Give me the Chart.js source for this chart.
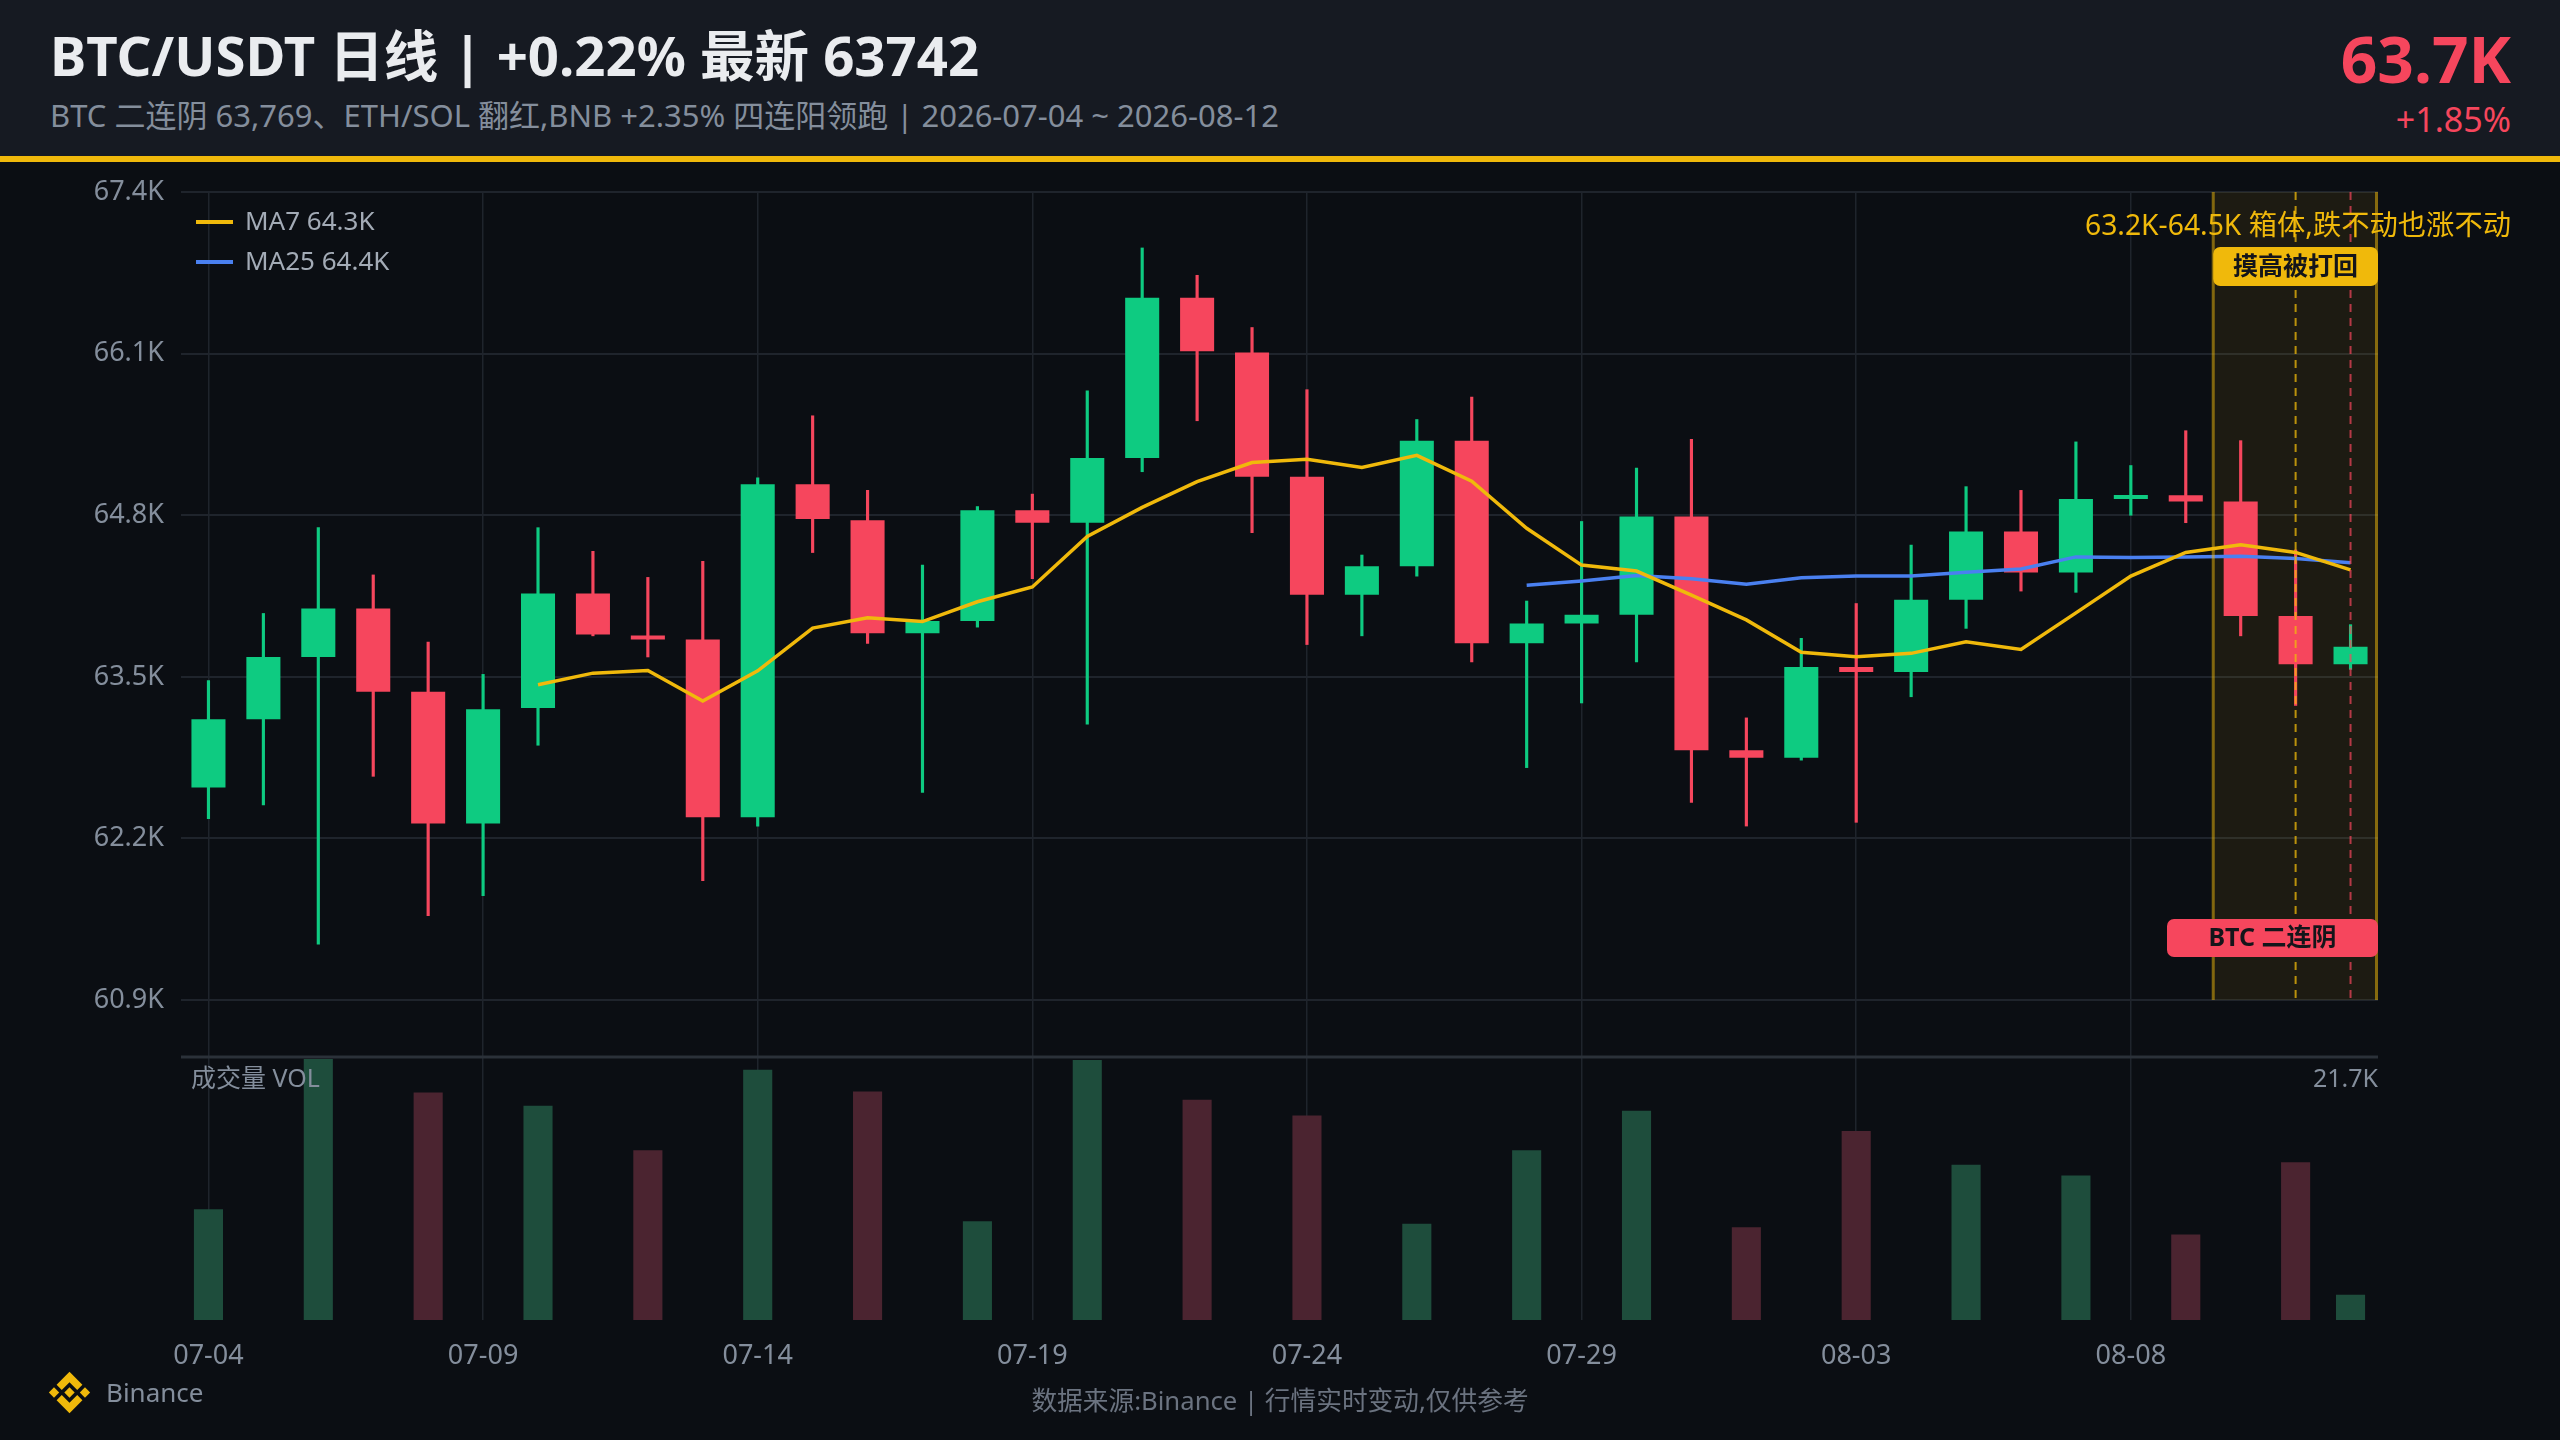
<!DOCTYPE html>
<html lang="zh-CN">
<head>
<meta charset="utf-8">
<title>BTC/USDT 日线</title>
<script src="https://cdn.jsdelivr.net/npm/chart.js@4.4.1/dist/chart.umd.min.js"></script>
<style>
  html, body { margin: 0; padding: 0; background: #0b0e13; }
  body { width: 2560px; height: 1440px; position: relative; overflow: hidden;
         font-family: "Noto Sans", "Noto Sans CJK SC", sans-serif; }
  #kline { position: absolute; left: 0; top: 0; }
  #header { position: absolute; left: 0; top: 0; width: 2560px; height: 156px;
            background: #161a22; border-bottom: 6px solid #f0b90b; }
  .t { position: absolute; white-space: nowrap; line-height: 1; }
  #title { left: 50px; top: 28px; font-size: 54.5px; font-weight: 700; color: #eaecef; }
  #sub { left: 50px; top: 100px; font-size: 31px; color: #848e9c; }
  #last { right: 49px; top: 27px; font-size: 64px; font-weight: 700; color: #f6465d; }
  #chg { right: 49px; top: 102px; font-size: 34px; color: #f6465d; }
  #logo { position: absolute; left: 48px; top: 1371px; width: 43px; height: 43px; }
  #brand { left: 106px; top: 1379px; font-size: 26px; color: #848e9c; }
  #src { left: 0; width: 2560px; text-align: center; top: 1388px; font-size: 25.7px; color: #6b7380; }
</style>
</head>
<body>
<canvas id="kline" width="2560" height="1440"></canvas>

<div id="header">
  <div class="t" id="title">BTC/USDT 日线 | +0.22% 最新 63742</div>
  <div class="t" id="sub">BTC 二连阴 63,769、ETH/SOL 翻红,BNB +2.35% 四连阳领跑 | 2026-07-04 ~ 2026-08-12</div>
  <div class="t" id="last">63.7K</div>
  <div class="t" id="chg">+1.85%</div>
</div>

<svg id="logo" viewBox="0 0 100 100">
  <g fill="#f0b90b">
    <polygon points="50,38 62,50 50,62 38,50"/>
    <polygon points="2,50 14,38 26,50 14,62"/>
    <polygon points="74,50 86,38 98,50 86,62"/>
    <polygon points="50,2 80,32 68,44 50,26 32,44 20,32"/>
    <polygon points="50,98 80,68 68,56 50,74 32,56 20,68"/>
  </g>
</svg>
<div class="t" id="brand">Binance</div>
<div class="t" id="src">数据来源:Binance | 行情实时变动,仅供参考</div>

<script>
// ===== 数据 =====
const fechas = ['07-04','07-05','07-06','07-07','07-08','07-09','07-10','07-11','07-12','07-13',
  '07-14','07-15','07-16','07-17','07-18','07-19','07-20','07-21','07-22','07-23',
  '07-24','07-25','07-26','07-27','07-28','07-29','07-30','07-31','08-01','08-02',
  '08-03','08-04','08-05','08-06','08-07','08-08','08-09','08-10','08-11','08-12'];

const aperturas = [62610,63160,63660,64050,63380,62320,63250,64170,63830,63800,
  62370,65050,64760,63850,63950,64840,64740,65260,66550,66110,
  65110,64160,64390,65400,63770,63930,64000,64790,62910,62850,
  63580,63540,64120,64670,64340,64930,64960,64910,63990,63602];
const maximos = [63470,64010,64700,64320,63780,63520,64700,64510,64300,64430,
  65100,65600,65000,64400,64870,64970,65800,66950,66730,66310,
  65810,64480,65570,65750,64110,64750,65180,65410,63170,63810,
  64090,64560,65030,65000,65390,65200,65480,65400,64520,63920];
const minimos = [62360,62470,61350,62700,61580,61740,62950,63830,63660,61860,
  62300,64500,63770,62570,63900,64290,63120,65150,65560,64660,
  63760,63830,64310,63620,62770,63290,63620,62490,62300,62830,
  62330,63340,63890,64190,64180,64800,64740,63830,63270,63560];
const cierres = [63160,63660,64050,63380,62320,63240,64170,63840,63800,62370,
  65050,64770,63850,63950,64840,64740,65260,66550,66120,65110,
  64160,64390,65400,63770,63930,64000,64790,62910,62850,63580,
  63540,64120,64670,64340,64930,64960,64910,63990,63602,63742];

const ma7 = [null,null,null,null,null,null,63437,63530,63552,63305,
  63548,63892,63976,63945,64104,64223,64629,64863,65070,65224,
  65251,65185,65282,65074,64695,64399,64351,64157,63958,63698,
  63662,63689,63782,63720,64015,64311,64501,64563,64501,64360];
const ma25 = [null,null,null,null,null,null,null,null,null,null,
  null,null,null,null,null,null,null,null,null,null,
  null,null,null,null,64236,64271,64315,64289,64245,64298,
  64311,64311,64342,64368,64465,64461,64465,64470,64452,64417];

// 成交量 (K)
const volumen = [9.2,null,21.7,null,18.9,null,17.8,null,14.1,null,
  20.8,null,19.0,null,8.2,null,21.6,null,18.3,null,
  17.0,null,8.0,null,14.1,null,17.4,null,7.7,null,
  15.7,null,12.9,null,12.0,null,7.1,null,13.1,2.1];

const preciosEje = [60900,62200,63500,64800,66100,67400];
const leyenda = ['MA7 64.3K','MA25 64.4K'];

// ===== estilos =====
const VERDE = '#0ecb81', ROJO = '#f6465d', AMARILLO = '#f0b90b', AZUL = '#4a80f0';
const GRIS = '#848e9c', GRID = '#1f242c';
const FUENTE = '"Noto Sans", "Noto Sans CJK SC", sans-serif';

const sube = cierres.map((c, i) => c >= aperturas[i]);
const colorVela = sube.map(s => s ? VERDE : ROJO);
const colorVol = sube.map(s => s ? '#1e4d3c' : '#4b2430');
const volMax = Math.max(...volumen.filter(v => v != null));

// zona marcada (últimas velas)
const zona = { desde: 36, linea1: 38, linea2: 39 };

function pastilla(ctx, x, y, w, h, r, fondo, texto, colorTexto) {
  ctx.fillStyle = fondo;
  ctx.beginPath();
  ctx.roundRect(x, y, w, h, r);
  ctx.fill();
  ctx.fillStyle = colorTexto;
  ctx.font = `700 25px ${FUENTE}`;
  ctx.textAlign = 'center';
  ctx.textBaseline = 'middle';
  ctx.fillText(texto, x + w / 2, y + h / 2 + 1);
}

const pluginZona = {
  id: 'zona',
  beforeDatasetsDraw(chart) {
    const { ctx, chartArea, scales: { x, y, yv } } = chart;
    const izq = (x.getPixelForValue(zona.desde) + x.getPixelForValue(zona.desde + 1)) / 2;
    const arriba = y.getPixelForValue(preciosEje[preciosEje.length - 1]);
    const abajo = y.getPixelForValue(preciosEje[0]);
    ctx.save();
    ctx.fillStyle = 'rgba(240,185,11,0.08)';
    ctx.fillRect(izq, arriba, chartArea.right - izq, abajo - arriba);
    // separador volumen
    const ySep = yv.getPixelForValue(volMax) - 2;
    ctx.strokeStyle = '#2b3139';
    ctx.lineWidth = 3;
    ctx.beginPath();
    ctx.moveTo(chartArea.left, ySep);
    ctx.lineTo(chartArea.right, ySep);
    ctx.stroke();
    ctx.restore();
  },
  afterDatasetsDraw(chart) {
    const { ctx, chartArea, scales: { x, y, yv } } = chart;
    const izq = (x.getPixelForValue(zona.desde) + x.getPixelForValue(zona.desde + 1)) / 2;
    const der = chartArea.right;
    const arriba = y.getPixelForValue(preciosEje[preciosEje.length - 1]);
    const abajo = y.getPixelForValue(preciosEje[0]);
    ctx.save();
    // bordes de la zona
    ctx.strokeStyle = 'rgba(240,185,11,0.5)';
    ctx.lineWidth = 3;
    ctx.beginPath();
    ctx.moveTo(izq, arriba); ctx.lineTo(izq, abajo);
    ctx.moveTo(der - 1.5, arriba); ctx.lineTo(der - 1.5, abajo);
    ctx.stroke();
    // líneas discontinuas
    ctx.setLineDash([8, 6]);
    ctx.lineWidth = 2;
    ctx.strokeStyle = 'rgba(240,185,11,0.75)';
    let px = x.getPixelForValue(zona.linea1);
    ctx.beginPath(); ctx.moveTo(px, arriba); ctx.lineTo(px, abajo); ctx.stroke();
    ctx.strokeStyle = 'rgba(246,70,93,0.7)';
    px = x.getPixelForValue(zona.linea2);
    ctx.beginPath(); ctx.moveTo(px, arriba); ctx.lineTo(px, abajo); ctx.stroke();
    ctx.setLineDash([]);

    // texto de la caja
    ctx.fillStyle = AMARILLO;
    ctx.font = `28.3px ${FUENTE}`;
    ctx.textAlign = 'right';
    ctx.textBaseline = 'middle';
    ctx.fillText('63.2K-64.5K 箱体,跌不动也涨不动', 2511, 227);

    pastilla(ctx, izq, 247, der - izq, 39, 7, AMARILLO, '摸高被打回', '#14151a');
    pastilla(ctx, der - 211, 919, 211, 38, 7, ROJO, 'BTC 二连阴', '#14151a');

    // leyenda MA
    const colores = [AMARILLO, AZUL];
    ctx.font = `26px ${FUENTE}`;
    ctx.textAlign = 'left';
    leyenda.forEach((txt, i) => {
      const yy = chartArea.top + 30 + i * 40;
      ctx.strokeStyle = colores[i];
      ctx.lineWidth = 4;
      ctx.beginPath();
      ctx.moveTo(chartArea.left + 15, yy); ctx.lineTo(chartArea.left + 52, yy);
      ctx.stroke();
      ctx.fillStyle = '#a3abb6';
      ctx.fillText(txt, chartArea.left + 64, yy + 1);
    });

    // etiquetas del volumen
    const yVol = yv.getPixelForValue(volMax) + 21;
    ctx.font = `25px ${FUENTE}`;
    ctx.fillStyle = GRIS;
    ctx.textAlign = 'left';
    ctx.fillText('成交量 VOL', chartArea.left + 10, yVol);
    ctx.textAlign = 'right';
    ctx.fillText(volMax.toFixed(1) + 'K', chartArea.right, yVol);
    ctx.restore();
  }
};

const ctx = document.getElementById('kline').getContext('2d');
new Chart(ctx, {
  data: {
    labels: fechas,
    datasets: [
      { type: 'line', label: leyenda[0], data: ma7, yAxisID: 'y', borderColor: AMARILLO,
        borderWidth: 3.5, pointRadius: 0, tension: 0, spanGaps: false, order: 0 },
      { type: 'line', label: leyenda[1], data: ma25, yAxisID: 'y', borderColor: AZUL,
        borderWidth: 3.5, pointRadius: 0, tension: 0, order: 0 },
      { type: 'bar', label: 'cuerpo', data: aperturas.map((a, i) => [a, cierres[i]]), yAxisID: 'y',
        backgroundColor: colorVela, grouped: false, barPercentage: 0.62, categoryPercentage: 1,
        minBarLength: 4, order: 1 },
      { type: 'bar', label: 'mecha', data: minimos.map((m, i) => [m, maximos[i]]), yAxisID: 'y',
        backgroundColor: colorVela, grouped: false, barThickness: 2.5, order: 2 },
      { type: 'bar', label: 'VOL', data: volumen, yAxisID: 'yv',
        backgroundColor: colorVol, grouped: false, barPercentage: 0.53, categoryPercentage: 1, order: 3 }
    ]
  },
  options: {
    responsive: false,
    animation: false,
    layout: { padding: { top: 192, right: 182, bottom: 60, left: 0 } },
    plugins: { legend: { display: false }, tooltip: { enabled: false } },
    scales: {
      x: {
        offset: true,
        grid: { offset: false, drawTicks: false, lineWidth: 1.5,
                color: c => c.index % 5 === 0 ? GRID : 'rgba(0,0,0,0)' },
        border: { display: false },
        ticks: { autoSkip: false, maxRotation: 0, padding: 20, color: GRIS,
                 font: { size: 27, family: FUENTE },
                 callback: (v, i) => i % 5 === 0 ? fechas[i] : '' },
        afterFit: s => { s.height = 60; }
      },
      y: {
        min: 58327, max: 67400,
        afterBuildTicks: s => { s.ticks = preciosEje.map(v => ({ value: v })); },
        grid: { color: GRID, lineWidth: 2, drawTicks: false },
        border: { display: false },
        ticks: { padding: 17, color: GRIS, font: { size: 27, family: FUENTE },
                 callback: v => (v / 1000).toFixed(1) + 'K' },
        afterFit: s => { s.width = 181; }
      },
      yv: {
        display: false,
        min: 0, max: volMax * 4.32
      }
    }
  },
  plugins: [pluginZona]
});
</script>
</body>
</html>
